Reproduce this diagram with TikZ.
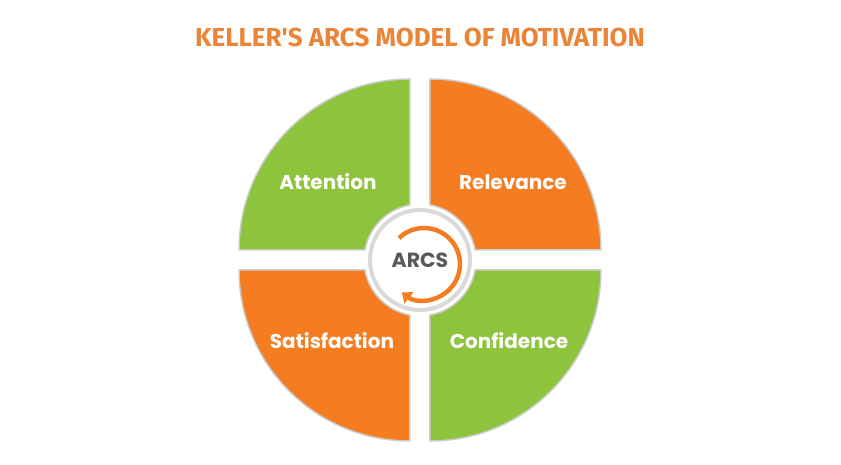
\documentclass[tikz,border=0pt]{standalone}
\usepackage{fontspec}
\setmainfont{Poppins}
\newfontfamily\titlefont{Fira Sans}
\usetikzlibrary{arrows.meta}
\definecolor{arcsgreen}{RGB}{141,196,60}
\definecolor{arcsorange}{RGB}{245,124,32}
\definecolor{titleorange}{RGB}{236,132,56}
\definecolor{arcsgray}{RGB}{89,89,89}

\begin{document}
\begin{tikzpicture}[x=1pt,y=1pt]
\tikzstyle{quad}=[draw=black!20, line width=1.5pt, line join=round]
\tikzstyle{quadtext}=[text=white, font=\bfseries\fontsize{20}{24}\selectfont]
\tikzstyle{hub}=[circle, minimum size=100pt, fill=white, draw=black!15, line width=4pt, text=arcsgray, font=\bfseries\fontsize{20.5}{22}\selectfont]
\useasboundingbox (-420,-205) rectangle (421,260);
\node[font=\titlefont\bfseries\fontsize{26}{30}\selectfont, text=titleorange] (title) at (0,223) {KELLER'S ARCS MODEL OF MOTIVATION};
% four quarters, one per letter
\foreach \ang/\col in {0/arcsorange,90/arcsgreen,180/arcsorange,270/arcsgreen}
  \filldraw[quad, fill=\col, rotate=\ang] (10,55.1) -- (10,181) arc[start angle=90, end angle=0, radius=171pt] -- (55.1,10) arc[start angle=10.3, end angle=79.7, radius=56pt] -- cycle;
\node[hub] (arcs) at (0,0) {ARCS};
\draw[arcsorange, line width=4.5pt, -{Triangle[length=9pt,width=14pt]}] (4,-4) ++(134:36pt) arc[start angle=134, end angle=-128, radius=36pt]; %cycle arrow
\node[quadtext] (att) at (-92,78) {Attention};
\node[quadtext] (rel) at (93,78) {Relevance};
\node[quadtext] (sat) at (-88,-81) {Satisfaction};
\node[quadtext] (con) at (89,-81) {Confidence};
\end{tikzpicture}
\end{document}
